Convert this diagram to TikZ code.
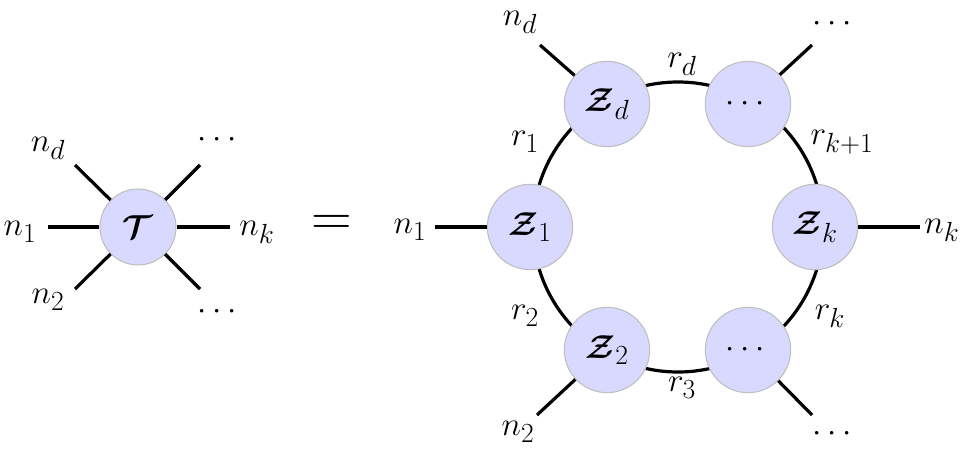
\documentclass[tikz,border=0pt]{standalone}
\usepackage{amsmath,bm}
\begin{document}
\begin{tikzpicture}[x=0.75pt,y=-0.75pt,
  tn/.style={circle,fill=blue!15,draw=gray!50,line width=0.8pt,minimum size=64pt,inner sep=0pt,font=\fontsize{30}{34}\selectfont},
  lg/.style={line width=2.4pt},
  lb/.style={font=\fontsize{29}{33}\selectfont}]
\useasboundingbox (0,0) rectangle (966,449);
% left
\node[tn,minimum size=57pt] (T) at (138,227) {$\bm{\mathcal{T}}$};
\coordinate (a1) at (48,227); \coordinate (a2) at (230,227);
\coordinate (a3) at (75,165); \coordinate (a4) at (200,165);
\coordinate (a5) at (75,289); \coordinate (a6) at (200,289);
\foreach \c in {a1,a2,a3,a4,a5,a6} \draw[lg] (T) -- (\c);
\node[lb] (l1) at (20,232) {$n_1$};
\node[lb] (l2) at (257,232) {$n_k$};
\node[lb] (l3) at (48,148) {$n_d$};
\node[lb] (l4) at (220,140) {$\cdots$};
\node[lb] (l5) at (48,300) {$n_2$};
\node[lb] (l6) at (220,312) {$\cdots$};
\node[lb] (eq) at (332,225) {\scalebox{1.7}{$=$}};
% ring
\draw[lg] (678,227) circle (145);
\node[tn] (Z1) at (530,227) {$\bm{\mathcal{Z}}_1$};
\node[tn] (Zk) at (815,227) {$\bm{\mathcal{Z}}_k$};
\node[tn] (Zd) at (607,104) {$\bm{\mathcal{Z}}_d$};
\node[tn] (Dt) at (748,104) {$\cdots$};
\node[tn] (Z2) at (607,350) {$\bm{\mathcal{Z}}_2$};
\node[tn] (Db) at (748,350) {$\cdots$};
\coordinate (b1) at (435,227); \coordinate (b2) at (920,227);
\coordinate (b3) at (540,45); \coordinate (b4) at (812,45);
\coordinate (b5) at (537,415); \coordinate (b6) at (812,415);
\draw[lg] (Z1) -- (b1); \draw[lg] (Zk) -- (b2);
\draw[lg] (Zd) -- (b3); \draw[lg] (Dt) -- (b4);
\draw[lg] (Z2) -- (b5); \draw[lg] (Db) -- (b6);
\node[lb] (m1) at (410,230) {$n_1$};
\node[lb] (m2) at (942,230) {$n_k$};
\node[lb] (m3) at (520,22) {$n_d$};
\node[lb] (m4) at (835,24) {$\cdots$};
\node[lb] (m5) at (518,432) {$n_2$};
\node[lb] (m6) at (835,434) {$\cdots$};
\node[lb] (r1) at (682,64) {$r_d$};
\node[lb] (r2) at (525,142) {$r_1$};
\node[lb] (r3) at (842,142) {$r_{k+1}$};
\node[lb] (r4) at (525,316) {$r_2$};
\node[lb] (r5) at (830,316) {$r_k$};
\node[lb] (r6) at (682,388) {$r_3$};
\end{tikzpicture}
\end{document}
